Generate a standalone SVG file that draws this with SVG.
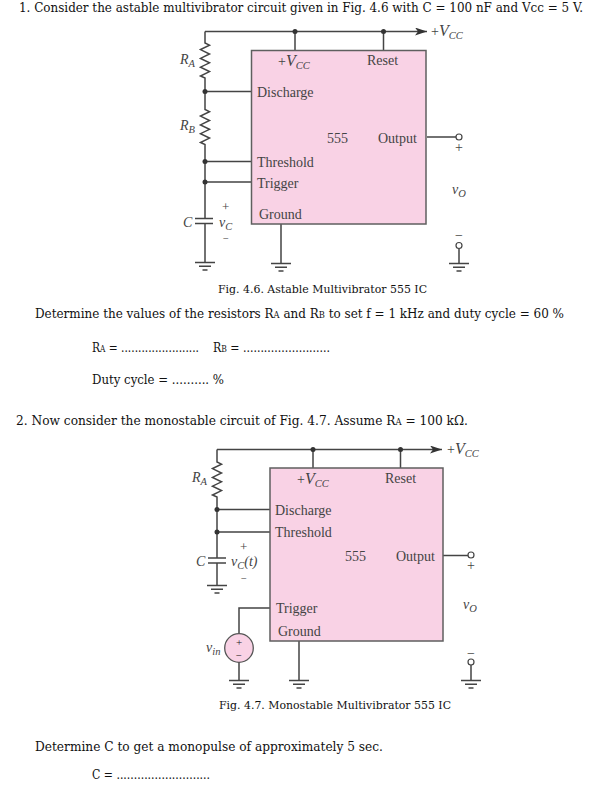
<svg xmlns="http://www.w3.org/2000/svg" width="612" height="787" viewBox="0 0 612 787">
<defs>
<style>
.t{font-family:"DejaVu Serif Condensed","Liberation Serif",serif;font-size:13px;fill:#111}
.c{font-family:"DejaVu Serif Condensed","Liberation Serif",serif;font-size:10.5px;fill:#111}
.l{font-family:"Liberation Serif",serif;font-size:14px;fill:#444}
.m{font-size:10.5px}
.p{font-size:13px}
.q{font-size:11px}
.i{font-style:italic}
.s{font-size:10.5px}
.v{font-size:16px}
.w{fill:none;stroke:#444;stroke-width:1.5}
.b{fill:#f9d2e5;stroke:#5f5f5f;stroke-width:1.5}
.d{fill:#333}
.o{fill:#fff;stroke:#444;stroke-width:1.2}
</style>
<marker id="arr" markerWidth="14" markerHeight="8" refX="12" refY="4" orient="auto" markerUnits="userSpaceOnUse"><path d="M0 0L12 4L0 8L3 4Z" fill="#333"/></marker>
<g id="gnd"><path class="w" d="M-10 0H10M-6 3.800H6M-2.500 7.500H2.500"/></g>
</defs>
<rect width="612" height="787" fill="#fff"/>

<g id="text">
<text class="t" x="19" y="12" textLength="564" lengthAdjust="spacingAndGlyphs">1.  Consider the astable multivibrator circuit given in Fig. 4.6 with C = 100 nF and Vcc = 5 V.</text>
<text class="c" x="218" y="293" textLength="209" lengthAdjust="spacingAndGlyphs">Fig. 4.6. Astable Multivibrator 555 IC</text>
<text class="t" x="35" y="318" textLength="529" lengthAdjust="spacingAndGlyphs">Determine the values of the resistors R<tspan font-size="9">A</tspan> and R<tspan font-size="9">B</tspan> to set f = 1 kHz and duty cycle = 60 %</text>
<text class="t" x="92" y="352" textLength="107" lengthAdjust="spacingAndGlyphs">R<tspan font-size="9">A</tspan> = .......................</text>
<text class="t" x="213" y="352" textLength="117" lengthAdjust="spacingAndGlyphs">R<tspan font-size="9">B</tspan> = .........................</text>
<text class="t" x="92" y="384" textLength="132" lengthAdjust="spacingAndGlyphs">Duty cycle = .......... %</text>
<text class="t" x="16" y="425" textLength="452" lengthAdjust="spacingAndGlyphs">2.  Now consider the monostable circuit of Fig. 4.7. Assume R<tspan font-size="9">A</tspan> = 100 kΩ.</text>
<text class="c" x="219" y="709" textLength="232" lengthAdjust="spacingAndGlyphs">Fig. 4.7. Monostable Multivibrator 555 IC</text>
<text class="t" x="35" y="751" textLength="348" lengthAdjust="spacingAndGlyphs">Determine C to get a monopulse of approximately 5 sec.</text>
<text class="t" x="92" y="779" textLength="118" lengthAdjust="spacingAndGlyphs">C = ...........................</text>
</g>

<g id="connectors">
<path class="w" marker-end="url(#arr)" d="M205 31.500H427"/>
<path class="w" d="M295 31.500V50.500M383.500 31.500V50.500"/>
<path class="w" d="M205 31.500V43L209.500 45.200L200.500 49.600L209.500 54L200.500 58.400L209.500 62.800L200.500 67.200L209.500 71.600L200.500 76L205 78V109.500L209.500 111.700L200.500 116.100L209.500 120.500L200.500 124.900L209.500 129.300L200.500 133.700L209.500 138.100L200.500 142.500L205 144.500V218.500M205 223.500V262"/>
<path class="w" d="M195 218.500H213M195 223.500H213"/>
<path class="w" d="M205 91.500H251.500M205 161.500H251.500M205 182H251.500"/>
<path class="w" d="M281 224V263M427 137H456M459 248.500V263"/>
<use href="#gnd" x="205" y="262.500"/><use href="#gnd" x="281" y="263.500"/><use href="#gnd" x="459" y="263.500"/>
<circle class="d" cx="295" cy="31.500" r="2.500"/><circle class="d" cx="383.500" cy="31.500" r="2.500"/><circle class="d" cx="205" cy="91.500" r="2.500"/><circle class="d" cx="205" cy="161.500" r="2.500"/><circle class="d" cx="205" cy="182" r="2.500"/>
<circle class="o" cx="459" cy="137" r="3"/><circle class="o" cx="459" cy="245.500" r="3"/>

<path class="w" marker-end="url(#arr)" d="M217 449.500H442"/>
<path class="w" d="M313 449.500V468M400.500 449.500V468"/>
<path class="w" d="M217 449.500V462L221.500 464.200L212.500 468.600L221.500 473L212.500 477.400L221.500 481.800L212.500 486.200L221.500 490.600L212.500 495L217 497V558M217 563V585"/>
<path class="w" d="M208 558H226M208 563H226"/>
<path class="w" d="M217 509.500H270M217 532H270"/>
<path class="w" d="M270 608H239V633.500M239 662V680M299 641V680M443 555.500H468M471 665V680"/>
<use href="#gnd" x="217" y="585.500"/><use href="#gnd" x="239" y="680.500"/><use href="#gnd" x="299" y="680.500"/><use href="#gnd" x="471" y="680.500"/>
<circle class="d" cx="313" cy="449.500" r="2.500"/><circle class="d" cx="400.500" cy="449.500" r="2.500"/><circle class="d" cx="217" cy="509.500" r="2.500"/><circle class="d" cx="217" cy="532" r="2.500"/>
<circle class="o" cx="471" cy="555" r="3"/><circle class="o" cx="471" cy="662" r="3"/>
</g>

<g id="ic-555-astable">
<rect class="b" x="251.500" y="50.500" width="174.500" height="173.500"/>
<text class="l" x="278" y="66">+<tspan class="i v">V</tspan><tspan class="i s" dy="3">CC</tspan></text>
<text class="l" x="367" y="65">Reset</text>
<text class="l" x="257" y="97">Discharge</text>
<text class="l" x="327" y="143">555</text>
<text class="l" x="378" y="143">Output</text>
<text class="l" x="257" y="167">Threshold</text>
<text class="l" x="257" y="188">Trigger</text>
<text class="l" x="259" y="219">Ground</text>
</g>
<g id="labels-astable">
<text class="l" x="431" y="36">+<tspan class="i v">V</tspan><tspan class="i s" dy="3">CC</tspan></text>
<text class="l i" x="180" y="64">R<tspan class="s" dy="3">A</tspan></text>
<text class="l i" x="180" y="130">R<tspan class="s" dy="3">B</tspan></text>
<text class="l i" x="183" y="227">C</text>
<text class="l p" x="222" y="211">+</text>
<text class="l i" x="219" y="227">v<tspan class="s" dy="3">C</tspan></text>
<text class="l m" x="223" y="242">−</text>
<text class="l" x="455" y="152">+</text>
<text class="l i" x="452" y="194">v<tspan class="s" dy="3">O</tspan></text>
<text class="l" x="455" y="240">−</text>
</g>

<g id="ic-555-monostable">
<rect class="b" x="270" y="468" width="173" height="173"/>
<text class="l" x="297" y="484">+<tspan class="i v">V</tspan><tspan class="i s" dy="3">CC</tspan></text>
<text class="l" x="385" y="483">Reset</text>
<text class="l" x="275" y="515">Discharge</text>
<text class="l" x="275" y="537">Threshold</text>
<text class="l" x="345" y="561">555</text>
<text class="l" x="396" y="561">Output</text>
<text class="l" x="276" y="613">Trigger</text>
<text class="l" x="278" y="636">Ground</text>
</g>
<g id="source-vin">
<circle cx="239" cy="648" r="14.300" fill="#f9d2e5" stroke="#555" stroke-width="1.3"/>
<text class="l q" x="236" y="645.500" style="fill:#222">+</text>
<text class="l m" x="236" y="658.500" style="fill:#222">−</text>
</g>
<g id="labels-monostable">
<text class="l" x="447" y="454">+<tspan class="i v">V</tspan><tspan class="i s" dy="3">CC</tspan></text>
<text class="l i" x="192" y="482">R<tspan class="s" dy="3">A</tspan></text>
<text class="l i" x="196" y="566">C</text>
<text class="l p" x="240" y="551">+</text>
<text class="l i" x="231" y="566">v<tspan class="s" dy="3">C</tspan><tspan dy="-3">(t)</tspan></text>
<text class="l m" x="241" y="582">−</text>
<text class="l" x="467" y="570">+</text>
<text class="l i" x="463" y="609">v<tspan class="s" dy="3">O</tspan></text>
<text class="l" x="467" y="658">−</text>
<text class="l i" x="206" y="652">v<tspan class="s" dy="3">in</tspan></text>
</g>
</svg>
